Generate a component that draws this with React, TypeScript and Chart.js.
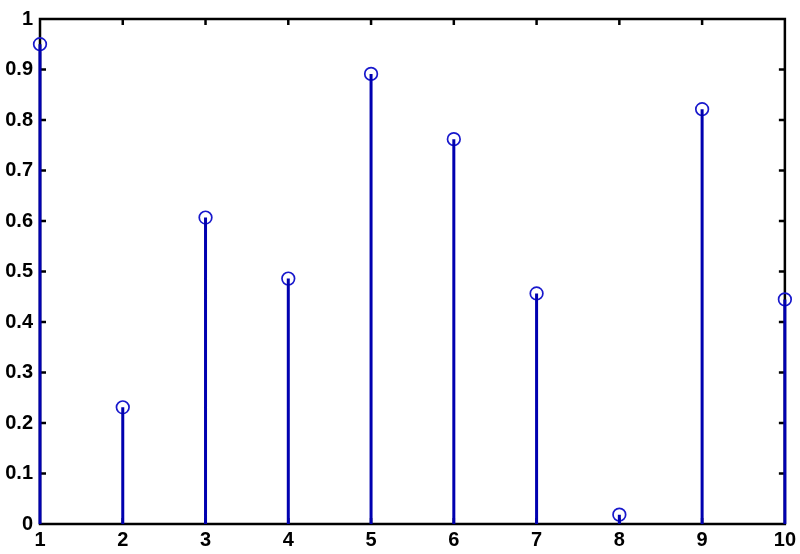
import { Chart, registerables } from "chart.js";
import { useRef, useEffect } from "react";

Chart.register(...registerables);

// Sample positions and stem heights (MATLAB-style stem plot)
const positions = [1, 2, 3, 4, 5, 6, 7, 8, 9, 10];
const values = [0.9501, 0.2311, 0.6068, 0.486, 0.8913, 0.7621, 0.4565, 0.0185, 0.8214, 0.4447];
const xTicks = [1, 2, 3, 4, 5, 6, 7, 8, 9, 10];
const yTicks = [0, 0.1, 0.2, 0.3, 0.4, 0.5, 0.6, 0.7, 0.8, 0.9, 1];

const STEM_COLOR = "#0000b0";
const MARKER_COLOR = "#1818cc";

// box around the plot with inward tick marks on all four sides
const boxPlugin = {
    id: "matlabBox",
    beforeDatasetsDraw(chart: Chart) {
        const { ctx, chartArea, scales } = chart;
        const { left, right, top, bottom } = chartArea;
        const len = 6;
        ctx.save();
        ctx.strokeStyle = "#000";
        ctx.lineWidth = 2.5;
        ctx.beginPath();
        ctx.rect(left, top, right - left, bottom - top);
        xTicks.forEach((v) => {
            const px = scales.x.getPixelForValue(v);
            ctx.moveTo(px, bottom);
            ctx.lineTo(px, bottom - len);
            ctx.moveTo(px, top);
            ctx.lineTo(px, top + len);
        });
        yTicks.forEach((v) => {
            const py = scales.y.getPixelForValue(v);
            ctx.moveTo(left, py);
            ctx.lineTo(left + len, py);
            ctx.moveTo(right, py);
            ctx.lineTo(right - len, py);
        });
        ctx.stroke();
        ctx.restore();
    },
};

export default function App() {
    const canvasRef = useRef<HTMLCanvasElement | null>(null);

    useEffect(() => {
        const canvas = canvasRef.current;
        if (!canvas) return;

        const stems = positions.flatMap((x, i) => [
            { x, y: 0 },
            { x, y: values[i] },
            { x, y: null },
        ]);
        const markers = positions.map((x, i) => ({ x, y: values[i] }));

        const tickFont = { family: "'Liberation Sans', Arial, sans-serif", size: 20, weight: "bold" as const };

        const chart = new Chart(canvas, {
            type: "line",
            data: {
                datasets: [
                    {
                        data: stems as any,
                        borderColor: STEM_COLOR,
                        borderWidth: 3,
                        pointRadius: 0,
                        spanGaps: false,
                        clip: false as any,
                    },
                    {
                        data: markers,
                        showLine: false,
                        pointRadius: 6.3,
                        pointBorderWidth: 1.7,
                        pointBorderColor: MARKER_COLOR,
                        pointBackgroundColor: "rgba(0,0,0,0)",
                        clip: false as any,
                    },
                ],
            },
            options: {
                responsive: true,
                maintainAspectRatio: false,
                animation: false,
                layout: { padding: { top: 16, right: 13, left: 0, bottom: 0 } },
                plugins: {
                    legend: { display: false },
                    tooltip: { enabled: false },
                },
                scales: {
                    x: {
                        type: "linear",
                        min: 1,
                        max: 10,
                        afterFit: (scale) => {
                            scale.height = 30;
                        },
                        afterBuildTicks: (scale) => {
                            scale.ticks = xTicks.map((value) => ({ value }));
                        },
                        grid: { display: false, drawTicks: false },
                        border: { display: false },
                        ticks: {
                            color: "#000",
                            font: tickFont,
                            padding: 4,
                            maxRotation: 0,
                        },
                    },
                    y: {
                        type: "linear",
                        min: 0,
                        max: 1,
                        afterFit: (scale) => {
                            scale.width = 40;
                        },
                        afterBuildTicks: (scale) => {
                            scale.ticks = yTicks.map((value) => ({ value }));
                        },
                        grid: { display: false, drawTicks: false },
                        border: { display: false },
                        ticks: {
                            color: "#000",
                            font: tickFont,
                            padding: 7,
                            callback: (v) => String(Math.round(Number(v) * 10) / 10),
                        },
                    },
                },
            },
            plugins: [boxPlugin],
        });

        return () => {
            chart.destroy();
        };
    }, []);

    return (
        <div style={{ position: "fixed", left: 0, top: 0, width: 800, height: 554, background: "#fff" }}>
            <canvas ref={canvasRef}></canvas>
        </div>
    );
}
